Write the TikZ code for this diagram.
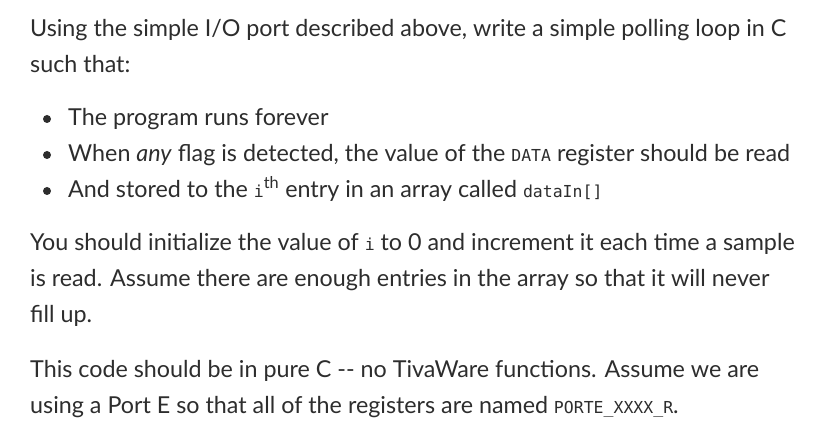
\documentclass[tikz,border=0pt]{standalone}
\usepackage{fontspec}
\setmainfont{Lato}
\setmonofont{DejaVu Sans Mono}
\definecolor{txt}{HTML}{2D2D2D}
\begin{document}
\begin{tikzpicture}[x=1pt,y=-1pt,
  ln/.style={anchor=base west,inner sep=0pt,text=txt,font=\fontsize{23.3}{26}\selectfont},
  bul/.style={circle,fill=txt,inner sep=0pt,minimum size=8pt}]
\useasboundingbox[fill=white] (0,0) rectangle (832,443);
\newcommand{\cd}[1]{{\ttfamily\fontsize{16.5}{18}\selectfont #1}}
\node[ln] (l1) at (30,37) {Using the simple I/O port described above, write a simple polling loop in C};
\node[ln] (l2) at (30,73) {such that:};
\node[bul] (b1) at (47,119) {};
\node[ln] (l3) at (68,126) {The program runs forever};
\node[bul] (b2) at (47,155) {};
\node[ln] (l4) at (68,162) {When \textit{any} flag is detected, the value of the \cd{DATA} register should be read};
\node[bul] (b3) at (47,191) {};
\node[ln] (l5) at (68,198) {And stored to the \cd{i}\textsuperscript{th} entry in an array called \cd{dataIn[]}};
\node[ln] (l6) at (30,251) {You should initialize the value of \cd{i} to 0 and increment it each time a sample};
\node[ln] (l7) at (30,287) {is read. Assume there are enough entries in the array so that it will never};
\node[ln] (l8) at (30,323) {fill up.};
\node[ln] (l9) at (30,377) {This code should be in pure C {-}{-} no TivaWare functions. Assume we are};
\node[ln] (l10) at (30,413) {using a Port E so that all of the registers are named \cd{PORTE\_XXXX\_R}.};
\end{tikzpicture}
\end{document}
